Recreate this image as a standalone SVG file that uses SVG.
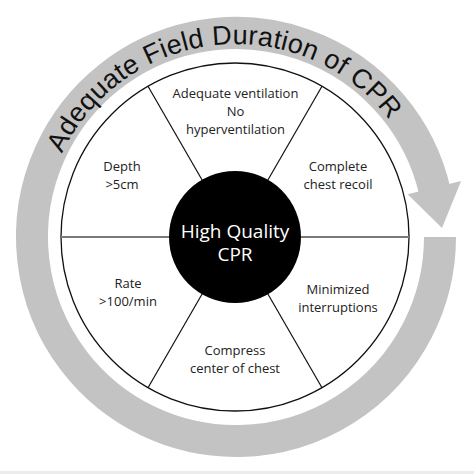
<svg xmlns="http://www.w3.org/2000/svg" width="474" height="474" viewBox="0 0 474 474">
  <style>
    .lbl { font-family: "Open Sans", "Liberation Sans", sans-serif; font-size: 13px; fill: #222; text-anchor: middle; }
    .ctr { font-family: "Open Sans", "Liberation Sans", sans-serif; font-size: 19px; fill: #fff; text-anchor: middle; }
    .arc { font-family: "Liberation Sans", Arial, sans-serif; font-size: 27px; fill: #111; }
    .spoke { stroke: #111; stroke-width: 1.2; fill: none; }
    .hspoke { stroke: #7a7a7a; stroke-width: 2.2; fill: none; }
  </style>
  <defs>
    <path id="textArc" d="M54.64 170.99 A193 193 0 0 1 422.42 187.05"/>
  </defs>
  <rect width="474" height="474" fill="#fff"/>
  <rect x="0" y="471" width="474" height="3" fill="#ececec"/>

  <g id="cycle-arrow">
    <path d="M440 237 A204 204 0 1 1 434.77 191.11" fill="none" stroke="#c3c3c3" stroke-width="32"/>
    <polygon points="407.7,194.2 461.1,180.9 442,228" fill="#c3c3c3"/>
    <text class="arc"><textPath href="#textArc" startOffset="19" textLength="394" lengthAdjust="spacing">Adequate Field Duration of CPR</textPath></text>
  </g>

  <g id="wheel">
    <circle cx="235" cy="237" r="174" fill="#fff" stroke="#111" stroke-width="1.3"/>
  </g>

  <g id="connectors">
    <line class="hspoke" x1="61" y1="237" x2="409" y2="237"/>
    <line class="spoke" x1="148" y1="86.3" x2="322" y2="387.7"/>
    <line class="spoke" x1="322" y1="86.3" x2="148" y2="387.7"/>
  </g>

  <g id="center">
    <circle cx="235" cy="237" r="66" fill="#000"/>
    <text class="ctr" x="235" y="238">High Quality</text>
    <text class="ctr" x="235" y="261">CPR</text>
  </g>

  <g id="ventilation">
    <text class="lbl" x="235.5" y="98">Adequate ventilation</text>
    <text class="lbl" x="235.5" y="116">No</text>
    <text class="lbl" x="235.5" y="134">hyperventilation</text>
  </g>
  <g id="recoil">
    <text class="lbl" x="338" y="171">Complete</text>
    <text class="lbl" x="338" y="189">chest recoil</text>
  </g>
  <g id="interruptions">
    <text class="lbl" x="338" y="294">Minimized</text>
    <text class="lbl" x="338" y="312">interruptions</text>
  </g>
  <g id="compress">
    <text class="lbl" x="235" y="355">Compress</text>
    <text class="lbl" x="235" y="373">center of chest</text>
  </g>
  <g id="rate">
    <text class="lbl" x="128" y="288">Rate</text>
    <text class="lbl" x="128" y="306">&gt;100/min</text>
  </g>
  <g id="depth">
    <text class="lbl" x="122" y="171">Depth</text>
    <text class="lbl" x="122" y="189">&gt;5cm</text>
  </g>
</svg>
